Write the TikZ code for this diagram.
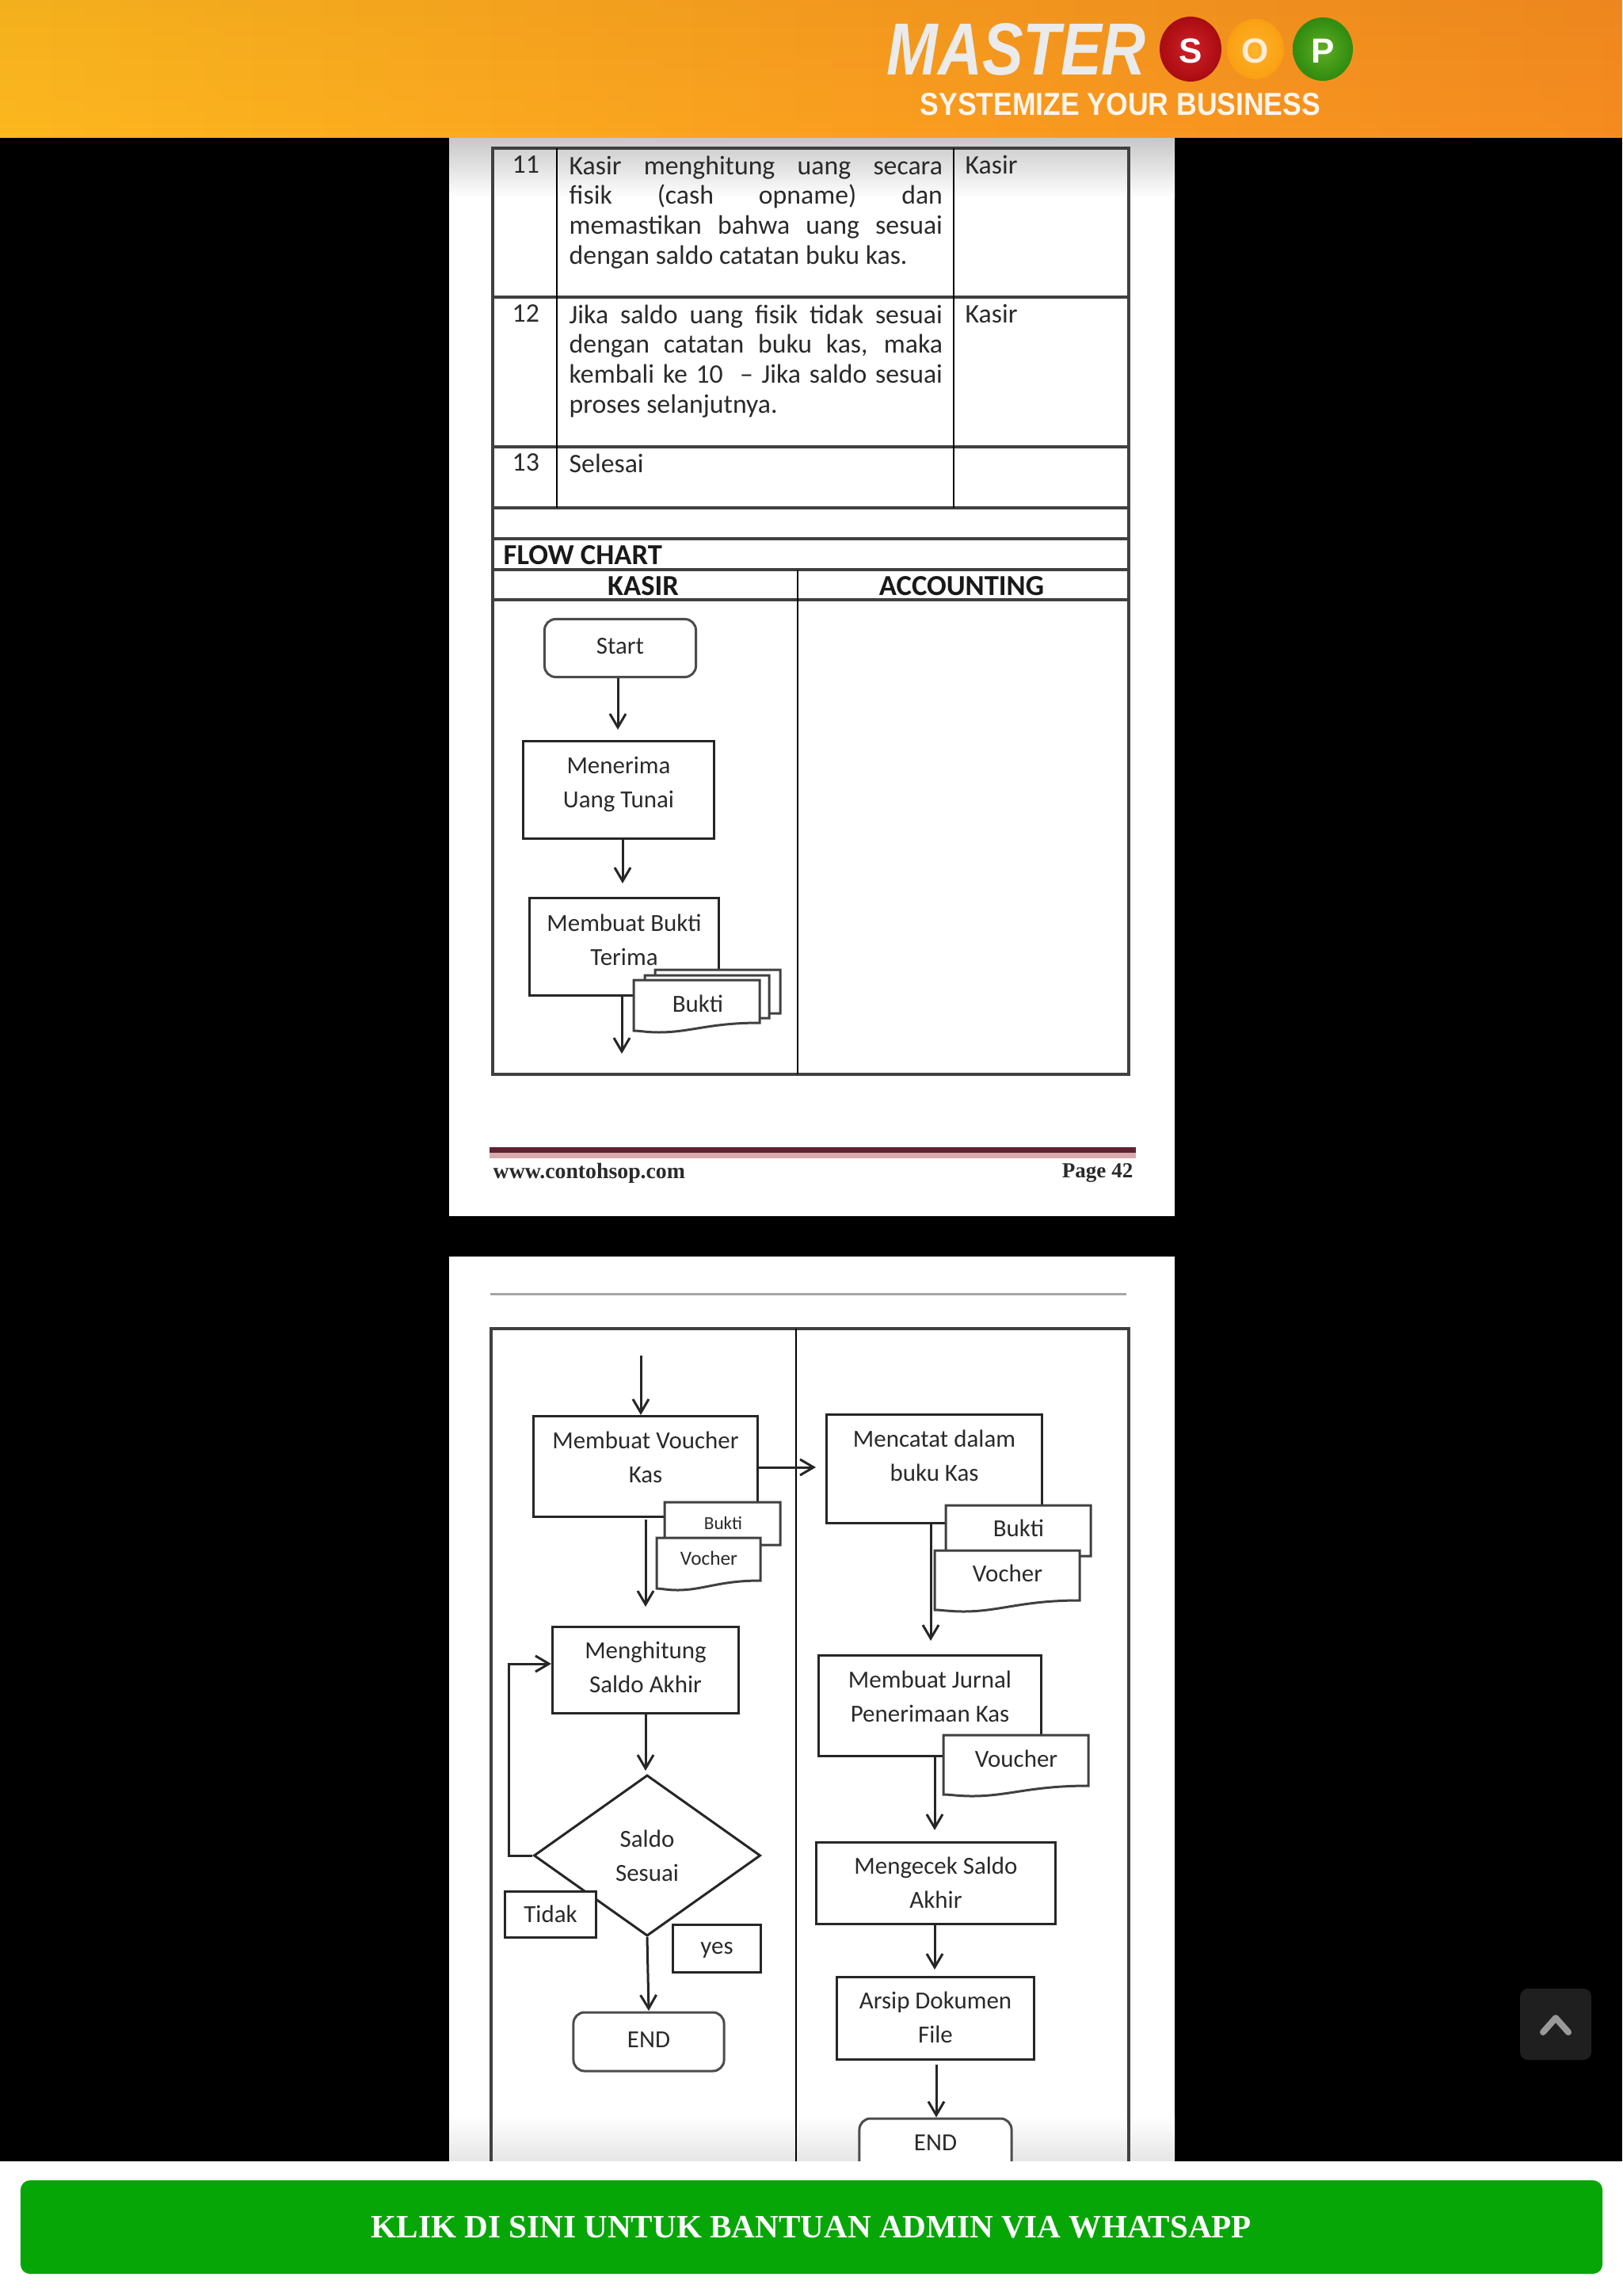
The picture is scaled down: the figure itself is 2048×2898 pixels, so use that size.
\documentclass[tikz,border=0pt]{standalone}
\usepackage{fontspec}
\setmainfont{Carlito}
\newfontfamily\serifbold{Liberation Serif}
\newfontfamily\helvbold{Liberation Sans}
\usetikzlibrary{arrows.meta,shapes.geometric,fadings}
\definecolor{inkgray}{HTML}{2A2A2A}
\definecolor{headerleft}{HTML}{FDB81F}
\definecolor{headermid}{HTML}{FBA020}
\definecolor{headerright}{HTML}{F68C20}
\definecolor{btngreen}{HTML}{06A606}
\definecolor{maroon}{HTML}{5E2230}
\definecolor{rosepink}{HTML}{D9A9AE}
\definecolor{ballorangein}{HTML}{FFB42A}
\definecolor{ballorangeout}{HTML}{FA9F12}
\definecolor{ballredin}{HTML}{D0202A}
\definecolor{ballredout}{HTML}{A80C10}
\definecolor{ballgreenin}{HTML}{5FAE22}
\definecolor{ballgreenout}{HTML}{2F8A10}
\newcommand{\jline}[1]{\hbox to 4.71cm{#1}}
\newcommand{\docshape}[5]{
    \draw[docline] (#1,#2) -- (#3,#2) -- (#3,#4) .. controls ({#1+0.6*(#3-#1)},#4) and ({#1+0.45*(#3-#1)},{#5+2}) .. ({#1+0.2*(#3-#1)},{#5+2}) .. controls ({#1+0.1*(#3-#1)},{#5+2}) and ({#1+0.05*(#3-#1)},#5) .. (#1,#5) -- cycle;
}
\tikzset{
    tableline/.style={draw=black!75, line width=0.035cm},
    thinline/.style={draw=black, line width=0.025cm},
    procbox/.style={draw=black!85, fill=white, line width=0.03cm, inner sep=0pt},
    endbox/.style={procbox, draw=black!70, rounded corners=0.14cm},
    docline/.style={draw=black!75, fill=white, line width=0.03cm},
    boxtext/.style={align=center, inner sep=0pt, text=inkgray, font=\fontsize{8.8}{12.2}\selectfont},
    doctext/.style={boxtext},
    rowtext/.style={align=left, inner sep=0pt, anchor=north west, text=inkgray, font=\fontsize{9.6}{10.7}\selectfont},
    headtext/.style={inner sep=0pt, text=black!90, font=\fontsize{10.4}{12}\selectfont\bfseries},
    flow/.style={-{Straight Barb[length=0.17cm,width=0.2cm]}, draw=black!85, line width=0.03cm},
}
\begin{document}
\begin{tikzpicture}[x=0.01cm, y=-0.01cm]
    \useasboundingbox (0,0) rectangle (2048,2898);
    \fill[black] (0,0) rectangle (2048,2898);
    \fill[white] (567,174) rectangle (1483,1535);
    \fill[white] (567,1586) rectangle (1483,2728);
    \shade[top color=black!22, bottom color=white] (567,174) rectangle (1483,250);
    \shade[top color=white, bottom color=black!10] (567,2670) rectangle (1483,2728);

    \foreach \y in {375,564,641,680,719,757}
        \draw[tableline] (622,\y) -- (1425,\y);
    \draw[tableline] (622,187) rectangle (1425,1356);
    \foreach \x in {703,1204}
        \draw[thinline] (\x,187) -- (\x,641);
    \draw[thinline] (1007,719) -- (1007,1356);

    \node[rowtext] (no11) at (646,196) {11};
    \node[rowtext] (no12) at (646,384) {12};
    \node[rowtext] (no13) at (646,572) {13};
    \node[rowtext] (row11) at (718,196) {\jline{Kasir menghitung uang secara}\\\jline{fisik (cash opname) dan}\\\jline{memastikan bahwa uang sesuai}\\dengan saldo catatan buku kas.};
    \node[rowtext] (row12) at (718,384) {\jline{Jika saldo uang fisik tidak sesuai}\\\jline{dengan catatan buku kas, maka}\\\jline{kembali ke 10 \ -- Jika saldo sesuai}\\proses selanjutnya.};
    \node[rowtext] (row13) at (718,572) {Selesai};
    \node[rowtext] (pic11) at (1218,196) {Kasir};
    \node[rowtext] (pic12) at (1218,384) {Kasir};
    \node[headtext, anchor=west] (flowchart) at (635,701) {FLOW CHART};
    \node[headtext] (kasir) at (812,740) {KASIR};
    \node[headtext] (accounting) at (1214,740) {ACCOUNTING};

    \node[endbox, minimum width=1.91cm, minimum height=0.73cm, label={[boxtext, yshift=0.02cm]center:Start}] (start) at (783,818) {};
    \node[procbox, minimum width=2.40cm, minimum height=1.23cm, label={[boxtext, yshift=0.07cm]center:Menerima\\Uang Tunai}] (menerima) at (781,997) {};
    \node[procbox, minimum width=2.38cm, minimum height=1.22cm, label={[boxtext, yshift=0.09cm]center:Membuat Bukti\\Terima}] (bukti) at (788,1195) {};
    \docshape{827}{1224}{985}{1279}{1279}
    \docshape{814}{1231}{971}{1285}{1285}
    \docshape{800}{1237}{959}{1291}{1301}
    \node[doctext] (buktidoc) at (881,1267) {Bukti};
    \coordinate (endA) at (780,921);
    \coordinate (endB) at (786,1115);
    \coordinate (endC) at (785,1330);
    \draw[flow] (start.south -| endA) -- (endA);
    \draw[flow] (menerima.south -| endB) -- (endB);
    \draw[flow] (bukti.south -| endC) -- (endC);

    \draw[draw=black!35, line width=0.03cm] (619,1633) -- (1422,1633);
    \fill[maroon] (618,1448) rectangle (1434,1455);
    \fill[rosepink] (618,1455) rectangle (1434,1462);
    \node[inner sep=0pt, anchor=west, text=inkgray, font=\serifbold\bfseries\fontsize{7.9}{9}\selectfont] (website) at (622,1481) {www.contohsop.com};
    \node[inner sep=0pt, anchor=east, text=inkgray, font=\serifbold\bfseries\fontsize{7.7}{9}\selectfont] (pageno) at (1431,1481) {Page 42};

    \draw[tableline] (620,2728) -- (620,1677) -- (1425,1677) -- (1425,2728);
    \draw[thinline] (1005,1677) -- (1005,2728);

    \node[procbox, minimum width=2.82cm, minimum height=1.27cm, label={[boxtext, yshift=0.12cm]center:Membuat Voucher\\Kas}] (voucher) at (815,1851) {};
    \docshape{839}{1896}{985}{1950}{1950}
    \node[doctext, font=\fontsize{6.6}{8}\selectfont] (buktismall) at (913,1923) {Bukti};
    \docshape{829}{1941}{960}{1995}{2005}
    \node[doctext, font=\fontsize{7.2}{8}\selectfont] (vochersmall) at (895,1967) {Vocher};
    \node[procbox, minimum width=2.35cm, minimum height=1.08cm, label={[boxtext, yshift=0.04cm]center:Menghitung\\Saldo Akhir}] (menghitung) at (815,2108) {};
    \node[procbox, diamond, minimum width=2.86cm, minimum height=2.03cm, label={[boxtext]center:Saldo\\Sesuai}] (saldo) at (817,2342) {};
    \node[procbox, minimum width=1.15cm, minimum height=0.58cm, label={[boxtext]center:Tidak}] (tidak) at (695,2416) {};
    \node[procbox, minimum width=1.11cm, minimum height=0.60cm, label={[boxtext, yshift=-0.02cm]center:yes}] (yes) at (905,2459) {};
    \node[endbox, minimum width=1.90cm, minimum height=0.74cm, label={[boxtext, yshift=0.02cm]center:END}] (endkasir) at (819,2577) {};
    \coordinate (topstart) at (809,1711);
    \coordinate (endD) at (1030,1852);
    \coordinate (endE) at (815,2028);
    \coordinate (endF) at (815,2235);
    \coordinate (endG) at (819,2538);
    \coordinate (loopturn) at (642,2100);
    \draw[flow] (topstart) -- (voucher.north -| topstart);
    \draw[flow] (voucher.east |- endD) -- (endD);
    \draw[flow] (voucher.south -| endE) ++(0,2) -- (endE);
    \draw[flow] (menghitung.south -| endF) -- (endF);
    \draw[flow] (saldo.south) -- (endG);
    \draw[flow] (saldo.west) -| (loopturn) -- (menghitung.west |- loopturn);

    \node[procbox, minimum width=2.71cm, minimum height=1.36cm, label={[boxtext, yshift=0.17cm]center:Mencatat dalam\\buku Kas}] (mencatat) at (1179.5,1854) {};
    \docshape{1194}{1900}{1377}{1964}{1964}
    \node[doctext] (buktikas) at (1286,1929) {Bukti};
    \docshape{1180}{1957}{1363}{2020}{2032}
    \node[doctext] (vocherkas) at (1272,1986) {Vocher};
    \node[procbox, minimum width=2.81cm, minimum height=1.27cm, label={[boxtext, yshift=0.12cm]center:Membuat Jurnal\\Penerimaan Kas}] (jurnal) at (1174,2153) {};
    \docshape{1191}{2190}{1374}{2254}{2265}
    \node[doctext] (voucherjurnal) at (1283,2220) {Voucher};
    \node[procbox, minimum width=3.02cm, minimum height=1.03cm, label={[boxtext, yshift=0.01cm]center:Mengecek Saldo\\Akhir}] (cek) at (1181.5,2377) {};
    \node[procbox, minimum width=2.48cm, minimum height=1.04cm, label={[boxtext, yshift=0.01cm]center:Arsip Dokumen\\File}] (arsip) at (1181,2547.5) {};
    \node[endbox, minimum width=1.92cm, minimum height=0.90cm, label={[boxtext, yshift=0.14cm]center:END}] (endacc) at (1181,2719) {};
    \coordinate (endH) at (1175,2071);
    \coordinate (endI) at (1180,2310);
    \coordinate (endJ) at (1180,2486);
    \coordinate (startK) at (1182,2606);
    \draw[flow] (mencatat.south -| endH) -- (endH);
    \draw[flow] (jurnal.south -| endI) -- (endI);
    \draw[flow] (cek.south -| endJ) -- (endJ);
    \draw[flow] (startK) -- (endacc.north -| startK);

    \fill[white] (0,2728) rectangle (2048,2898);
    \node[fill=btngreen, rounded corners=0.12cm, inner sep=0pt, minimum width=19.96cm, minimum height=1.18cm, text=white, font=\serifbold\bfseries\fontsize{11.7}{13}\selectfont] (whatsapp) at (1024.5,2811) {KLIK DI SINI UNTUK BANTUAN ADMIN VIA WHATSAPP};

    \fill[fill=black!88, rounded corners=0.1cm] (1919,2510) rectangle (2009,2600);
    \draw[draw=black!40, line width=0.08cm, line cap=round, line join=round] (1948,2565) -- (1964,2547) -- (1980,2565);

    \shade[left color=headerleft, right color=headerright, middle color=headermid] (0,0) rectangle (2048,174);
    \fill[black!70!orange, opacity=0.05, path fading=south] (0,0) rectangle (2048,174);
    \node[inner sep=0pt, anchor=base west, text=black!8] (master) at (1119,95) {\resizebox{3.27cm}{0.65cm}{\helvbold\bfseries\itshape MASTER}};
    \shade[inner color=ballredin, outer color=ballredout] (1503,62) ellipse (39 and 41);
    \shade[inner color=ballorangein, outer color=ballorangeout] (1585,62) ellipse (36 and 38);
    \shade[inner color=ballgreenin, outer color=ballgreenout] (1670,62) ellipse (38 and 40);
    \node[text=white, inner sep=0pt, font=\helvbold\bfseries\fontsize{12.5}{15}\selectfont] (ballS) at (1503,64) {S};
    \node[text=white!85!orange, inner sep=0pt, font=\helvbold\bfseries\fontsize{12.5}{15}\selectfont] (ballO) at (1585,64) {O};
    \node[text=white, inner sep=0pt, font=\helvbold\bfseries\fontsize{12.5}{15}\selectfont] (ballP) at (1670,64) {P};
    \node[inner sep=0pt, anchor=base west, text=white!92!orange] (slogan) at (1161,146) {\resizebox{5.05cm}{0.28cm}{\helvbold\bfseries SYSTEMIZE YOUR BUSINESS}};
\end{tikzpicture}
\end{document}
